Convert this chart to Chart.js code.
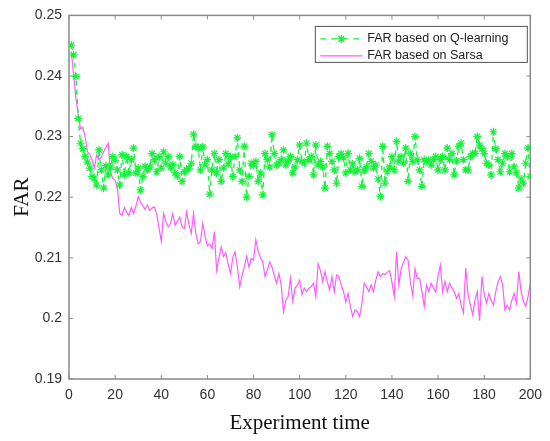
<!DOCTYPE html>
<html>
<head>
<meta charset="utf-8">
<script src="https://cdn.jsdelivr.net/npm/chart.js@4.4.1/dist/chart.umd.min.js"></script>
<style>
  html, body { margin: 0; padding: 0; background: #fff; }
  canvas { display: block; }
</style>
</head>
<body>
<canvas id="farChart" width="550" height="441"></canvas>
<script>
// FAR per experiment (experiment 1..200)
const farQLearning = [
  0.2451, 0.2435, 0.2399, 0.2330, 0.2289, 0.2280, 0.2267, 0.2258, 0.2248, 0.2234,
  0.2230, 0.2220, 0.2278, 0.2245, 0.2215, 0.2252, 0.2237, 0.2250, 0.2267, 0.2261,
  0.2245, 0.2220, 0.2270, 0.2237, 0.2267, 0.2240, 0.2262, 0.2281, 0.2240, 0.2248,
  0.2212, 0.2234, 0.2251, 0.2245, 0.2250, 0.2272, 0.2262, 0.2242, 0.2267, 0.2248,
  0.2275, 0.2256, 0.2267, 0.2250, 0.2254, 0.2240, 0.2235, 0.2267, 0.2226, 0.2242,
  0.2245, 0.2248, 0.2256, 0.2304, 0.2284, 0.2281, 0.2245, 0.2283, 0.2253, 0.2262,
  0.2205, 0.2245, 0.2272, 0.2240, 0.2262, 0.2226, 0.2248, 0.2272, 0.2255, 0.2267,
  0.2234, 0.2267, 0.2298, 0.2245, 0.2226, 0.2284, 0.2200, 0.2234, 0.2256, 0.2253,
  0.2259, 0.2226, 0.2240, 0.2204, 0.2272, 0.2262, 0.2250, 0.2303, 0.2272, 0.2253,
  0.2256, 0.2262, 0.2278, 0.2253, 0.2260, 0.2267, 0.2240, 0.2250, 0.2262, 0.2286,
  0.2259, 0.2256, 0.2289, 0.2262, 0.2267, 0.2237, 0.2286, 0.2253, 0.2259, 0.2250,
  0.2215, 0.2284, 0.2272, 0.2259, 0.2245, 0.2223, 0.2267, 0.2272, 0.2265, 0.2240,
  0.2272, 0.2245, 0.2255, 0.2242, 0.2245, 0.2264, 0.2218, 0.2245, 0.2250, 0.2272,
  0.2259, 0.2248, 0.2253, 0.2230, 0.2201, 0.2284, 0.2223, 0.2242, 0.2250, 0.2267,
  0.2245, 0.2292, 0.2259, 0.2267, 0.2256, 0.2281, 0.2226, 0.2272, 0.2259, 0.2300,
  0.2262, 0.2245, 0.2218, 0.2262, 0.2259, 0.2262, 0.2253, 0.2262, 0.2267, 0.2245,
  0.2262, 0.2267, 0.2245, 0.2281, 0.2262, 0.2272, 0.2237, 0.2260, 0.2284, 0.2289,
  0.2262, 0.2245, 0.2245, 0.2267, 0.2272, 0.2272, 0.2300, 0.2286, 0.2280, 0.2272,
  0.2256, 0.2253, 0.2237, 0.2308, 0.2280, 0.2262, 0.2242, 0.2256, 0.2272, 0.2267,
  0.2242, 0.2272, 0.2250, 0.2240, 0.2215, 0.2230, 0.2223, 0.2256, 0.2281, 0.2234
];

const farSarsa = [
  0.2440, 0.2402, 0.2363, 0.2336, 0.2313, 0.2315, 0.2300, 0.2275, 0.2270, 0.2262,
  0.2248, 0.2270, 0.2262, 0.2266, 0.2275, 0.2282, 0.2289, 0.2240, 0.2231, 0.2228,
  0.2214, 0.2173, 0.2170, 0.2183, 0.2175, 0.2170, 0.2183, 0.2173, 0.2185, 0.2201,
  0.2192, 0.2186, 0.2180, 0.2187, 0.2178, 0.2182, 0.2184, 0.2173, 0.2150, 0.2127,
  0.2173, 0.2160, 0.2151, 0.2156, 0.2173, 0.2154, 0.2160, 0.2167, 0.2151, 0.2148,
  0.2176, 0.2155, 0.2140, 0.2173, 0.2140, 0.2123, 0.2127, 0.2157, 0.2135, 0.2120,
  0.2123, 0.2115, 0.2143, 0.2079, 0.2100, 0.2118, 0.2102, 0.2108, 0.2090, 0.2074,
  0.2100, 0.2110, 0.2085, 0.2052, 0.2070, 0.2085, 0.2102, 0.2085, 0.2099, 0.2096,
  0.2130, 0.2111, 0.2100, 0.2093, 0.2069, 0.2080, 0.2093, 0.2085, 0.2070, 0.2058,
  0.2074, 0.2055, 0.2011, 0.2030, 0.2036, 0.2066, 0.2028, 0.2050, 0.2055, 0.2063,
  0.2040, 0.2050, 0.2044, 0.2050, 0.2052, 0.2058, 0.2036, 0.2090, 0.2079, 0.2061,
  0.2077, 0.2060, 0.2047, 0.2069, 0.2044, 0.2072, 0.2069, 0.2055, 0.2044, 0.2027,
  0.2041, 0.2020, 0.2003, 0.2014, 0.2011, 0.2003, 0.2025, 0.2058, 0.2052, 0.2044,
  0.2055, 0.2044, 0.2063, 0.2077, 0.2069, 0.2074, 0.2072, 0.2076, 0.2079, 0.2060,
  0.2036, 0.2110, 0.2055, 0.2082, 0.2092, 0.2102, 0.2096, 0.2060, 0.2038, 0.2082,
  0.2066, 0.2066, 0.2045, 0.2020, 0.2055, 0.2044, 0.2058, 0.2050, 0.2044, 0.2070,
  0.2088, 0.2044, 0.2061, 0.2044, 0.2058, 0.2050, 0.2044, 0.2033, 0.2041, 0.2022,
  0.2009, 0.2083, 0.2040, 0.2022, 0.2006, 0.2030, 0.2044, 0.1996, 0.2069, 0.2040,
  0.2025, 0.2041, 0.2030, 0.2022, 0.2044, 0.2060, 0.2069, 0.2055, 0.2014, 0.2022,
  0.2014, 0.2030, 0.2041, 0.2025, 0.2077, 0.2044, 0.2028, 0.2020, 0.2036, 0.2058
];

const seriesLabels = ["FAR based on Q-learning", "FAR based on Sarsa"];
const xTicks = [0, 20, 40, 60, 80, 100, 120, 140, 160, 180, 200];
const yTicks = [0.19, 0.2, 0.21, 0.22, 0.23, 0.24, 0.25];

const green = "#14f23a";
const magenta = "#ff5cff";
const frameColor = "#8a8a8a";

const toPoints = arr => arr.map((v, i) => ({ x: i + 1, y: v }));

// MATLAB-like box with inward ticks, plus the legend inside the axes
const matlabFrame = {
  id: "matlabFrame",
  beforeDatasetsDraw(chart) {
    const { ctx, chartArea: a, scales } = chart;
    ctx.save();
    ctx.strokeStyle = frameColor;
    ctx.lineWidth = 1.5;
    ctx.strokeRect(a.left, a.top, a.right - a.left, a.bottom - a.top);
    ctx.lineWidth = 1;
    const tl = 4;
    ctx.beginPath();
    xTicks.forEach(t => {
      const px = scales.x.getPixelForValue(t);
      ctx.moveTo(px, a.bottom); ctx.lineTo(px, a.bottom - tl);
      ctx.moveTo(px, a.top); ctx.lineTo(px, a.top + tl);
    });
    yTicks.forEach(t => {
      const py = scales.y.getPixelForValue(t);
      ctx.moveTo(a.left, py); ctx.lineTo(a.left + tl, py);
      ctx.moveTo(a.right, py); ctx.lineTo(a.right - tl, py);
    });
    ctx.stroke();
    ctx.restore();
  },
  afterDraw(chart) {
    const { ctx, chartArea: a } = chart;
    const right = a.right - 3, left = right - 212, top = a.top + 11, h = 36;
    ctx.save();
    ctx.fillStyle = "#fff";
    ctx.fillRect(left, top, right - left, h);
    ctx.strokeStyle = "#555";
    ctx.lineWidth = 1;
    ctx.strokeRect(left, top, right - left, h);

    const rows = [top + 12.5, top + 29.5];
    // Q-learning sample
    ctx.strokeStyle = green;
    ctx.lineWidth = 1.3;
    ctx.setLineDash([6, 5]);
    ctx.beginPath();
    ctx.moveTo(left + 5, rows[0]); ctx.lineTo(left + 47, rows[0]);
    ctx.stroke();
    ctx.setLineDash([]);
    Chart.helpers.drawPoint(ctx, { pointStyle: "star", radius: 4, borderWidth: 1.2 }, left + 26, rows[0]);
    // Sarsa sample
    ctx.strokeStyle = magenta;
    ctx.beginPath();
    ctx.moveTo(left + 5, rows[1]); ctx.lineTo(left + 47, rows[1]);
    ctx.stroke();

    ctx.fillStyle = "#222";
    ctx.font = "12.5px 'Liberation Sans', Arial, sans-serif";
    ctx.textBaseline = "middle";
    ctx.fillText(seriesLabels[0], left + 52, rows[0]);
    ctx.fillText(seriesLabels[1], left + 52, rows[1]);
    ctx.restore();
  }
};

Chart.defaults.font.family = "'Liberation Sans', Arial, sans-serif";

new Chart(document.getElementById("farChart"), {
  type: "line",
  data: {
    datasets: [
      {
        label: seriesLabels[0],
        data: toPoints(farQLearning),
        borderColor: green,
        backgroundColor: green,
        borderWidth: 1.3,
        borderDash: [5, 4],
        pointStyle: "star",
        pointRadius: 4,
        pointBorderWidth: 1.2,
        pointBorderColor: green,
        tension: 0
      },
      {
        label: seriesLabels[1],
        data: toPoints(farSarsa),
        borderColor: magenta,
        borderWidth: 1.2,
        pointRadius: 0,
        tension: 0
      }
    ]
  },
  options: {
    responsive: false,
    animation: false,
    events: [],
    layout: { padding: { left: 0, top: 14, right: 19, bottom: 0 } },
    plugins: {
      legend: { display: false },
      tooltip: { enabled: false }
    },
    scales: {
      x: {
        type: "linear",
        min: 0,
        max: 200,
        afterBuildTicks: s => { s.ticks = xTicks.map(v => ({ value: v })); },
        afterFit: s => { s.height = 62; },
        grid: { display: false, drawTicks: false },
        border: { display: false },
        ticks: { color: "#333", font: { size: 14 }, padding: 8, maxRotation: 0 },
        title: {
          display: true,
          text: "Experiment time",
          color: "#111",
          font: { family: "'Liberation Serif', 'Times New Roman', serif", size: 21 },
          padding: { top: 0, bottom: 5 }
        }
      },
      y: {
        min: 0.19,
        max: 0.25,
        afterBuildTicks: s => { s.ticks = yTicks.map(v => ({ value: v })); },
        afterFit: s => { s.width = 69; },
        grid: { display: false, drawTicks: false },
        border: { display: false },
        ticks: {
          color: "#333",
          font: { size: 14 },
          padding: 7,
          callback: v => String(+v.toFixed(2))
        },
        title: {
          display: true,
          text: "FAR",
          color: "#111",
          font: { family: "'Liberation Serif', 'Times New Roman', serif", size: 21 },
          padding: { top: 10, bottom: 0 }
        }
      }
    }
  },
  plugins: [matlabFrame]
});
</script>
</body>
</html>
